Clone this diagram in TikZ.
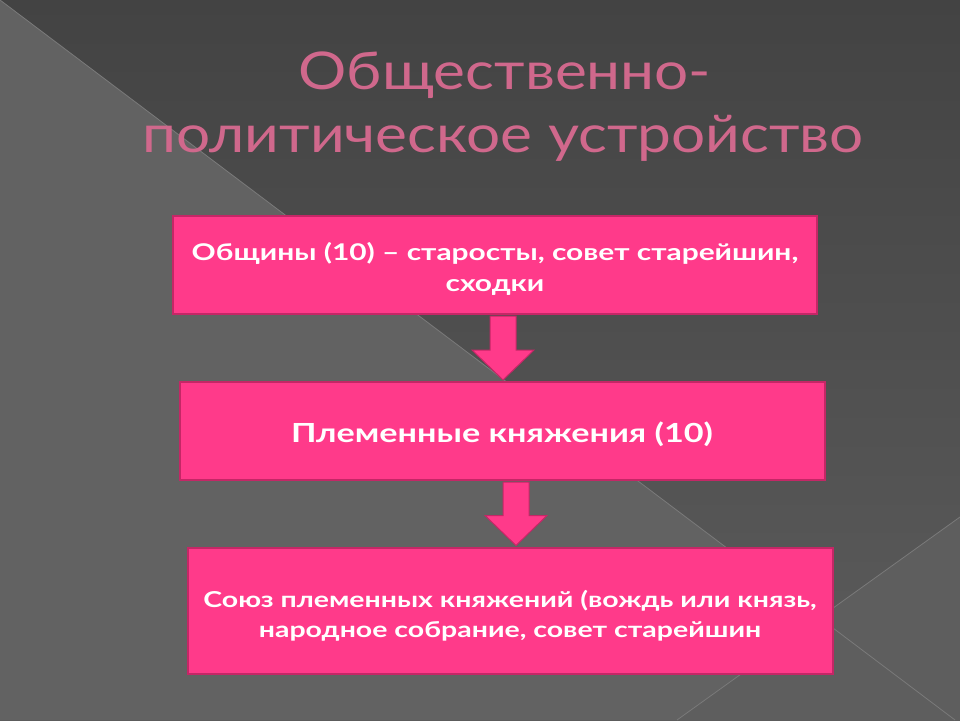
\documentclass[tikz,border=0pt]{standalone}
\usepackage{fontspec}
\setmainfont{Lato}
\newfontfamily\titlefont[FakeStretch=1.16]{Lato}
\newfontfamily\boxfont[FakeStretch=1.3]{Lato}
\usetikzlibrary{calc}
\definecolor{bgtop}{HTML}{434343}
\definecolor{bgbot}{HTML}{5C5C5C}
\definecolor{bgleft}{HTML}{626262}
\definecolor{bgright}{HTML}{5E5E5E}
\definecolor{seam}{HTML}{7A7A7A}
\definecolor{titlepink}{HTML}{D0688C}
\definecolor{boxpink}{HTML}{FF3A8A}
\definecolor{boxedge}{HTML}{C42766}
\tikzset{
  box/.style={fill=boxpink, draw=boxedge, line width=2pt, inner sep=0pt},
  boxtext/.style={align=center, text=white, inner sep=0pt,
    font=\boxfont\bfseries\fontsize{23}{31}\selectfont},
  bigtext/.style={boxtext, font=\boxfont\bfseries\fontsize{26.3}{31}\selectfont},
  lowtext/.style={boxtext, font=\boxfont\bfseries\fontsize{21.9}{30}\selectfont},
  titletext/.style={text=titlepink, font=\titlefont\fontsize{52}{63}\selectfont, inner sep=0pt, anchor=base},
  arrowfill/.style={fill=boxpink, draw=boxedge, line width=1pt, line join=miter}
}
\newcommand\blockarr[2]{%
  \filldraw[arrowfill] ($(#1)+(-13,0)$) -- ($(#2)+(-13,-30)$) -- ($(#2)+(-31,-30)$)
    -- (#2) -- ($(#2)+(31,-30)$) -- ($(#2)+(13,-30)$) -- ($(#1)+(13,0)$) -- cycle;}
\begin{document}
\begin{tikzpicture}[x=1pt,y=-1pt]
\useasboundingbox (0,0) rectangle (960,720);
% background
\shade[top color=bgtop, bottom color=bgbot] (0,0) rectangle (960,720);
\fill[bgleft] (0,0) -- (955,720) -- (0,720) -- cycle;
\fill[bgright] (960,517) -- (960,720) -- (677,720) -- cycle;
\draw[seam, line width=0.8pt] (0,0) -- (955,720);
\draw[seam, line width=0.8pt] (960,517) -- (677,720);
% title
\node[titletext] (t1) at (505,89) {Общественно-};
\node[titletext] (t2) at (503,152) {политическое устройство};
% boxes
\node[box, minimum width=644, minimum height=98,
  label={[boxtext, yshift=-4pt]center:{Общины (10) – старосты, совет старейшин,\\сходки}}]
  (b1) at (495,265) {};
\node[box, minimum width=645, minimum height=98,
  label={[bigtext, yshift=-3pt]center:{Племенные княжения (10)}}]
  (b2) at (502,431) {};
\node[box, minimum width=645, minimum height=126,
  label={[lowtext, yshift=-5pt]center:{Союз племенных княжений (вождь или князь,\\народное собрание, совет старейшин}}]
  (b3) at (510,610.5) {};
% arrows
\coordinate (a1s) at ($(b1.south)+(8,1)$);
\coordinate (a1t) at ($(b2.north)+(1,-1)$);
\coordinate (a1t) at (a1s |- a1t);
\coordinate (a2s) at ($(b2.south)+(14,1)$);
\coordinate (a2t) at ($(b3.north)+(0,-1)$);
\coordinate (a2t) at (a2s |- a2t);
\blockarr{a1s}{a1t}
\blockarr{a2s}{a2t}
\end{tikzpicture}
\end{document}
